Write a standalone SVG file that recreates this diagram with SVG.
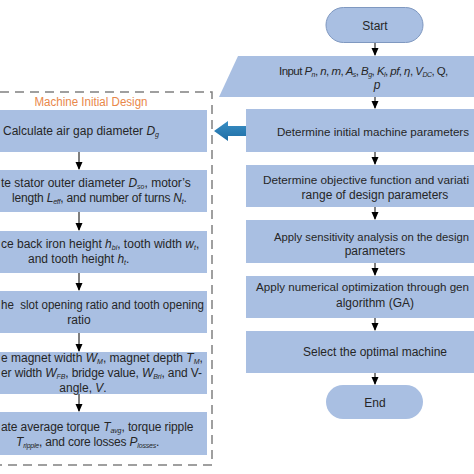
<svg xmlns="http://www.w3.org/2000/svg" width="474" height="474" viewBox="0 0 474 474">
<defs>
<style>
.box{fill:#A9BFE2;}
.t{font-family:"Liberation Sans",Arial,sans-serif;font-size:12px;fill:#262626;}
.r{font-size:11.5px;}
.c{text-anchor:middle;}
.i{font-style:italic;}
.s{font-style:italic;font-size:7px;}
.ln{stroke:#000;stroke-width:1;fill:none;marker-end:url(#ah);}
</style>
<marker id="ah" viewBox="0 0 8 8" refX="7" refY="4" markerWidth="8" markerHeight="8" markerUnits="userSpaceOnUse" orient="auto">
<path d="M0,0.5 L8,4 L0,7.5 Z" fill="#000"/>
</marker>
<linearGradient id="bg" x1="0" y1="0" x2="0" y2="1">
<stop offset="0" stop-color="#3A8FC4"/>
<stop offset="1" stop-color="#1E6DA5"/>
</linearGradient>
</defs>
<rect width="474" height="474" fill="#fff"/>

<g id="group-initial-design">
<path d="M0,92 H212 V465 H0" fill="none" stroke="#808080" stroke-width="1.5" stroke-dasharray="9,6"/>
<text class="t c" x="91" y="106" style="fill:#E9874A" textLength="113" lengthAdjust="spacingAndGlyphs">Machine Initial Design</text>
</g>

<g id="n-airgap">
<rect class="box" x="-10" y="110" width="217" height="42"/>
<text class="t" x="3" y="135">Calculate air gap diameter <tspan class="i">D</tspan><tspan class="s" baseline-shift="-2">g</tspan></text>
</g>
<g id="n-stator">
<rect class="box" x="-10" y="170" width="217" height="42"/>
<text class="t" x="1" y="187">te stator outer diameter <tspan class="i">D</tspan><tspan class="s" baseline-shift="-2">so</tspan>, motor’s</text>
<text class="t" x="12" y="202" letter-spacing="-0.2">length <tspan class="i">L</tspan><tspan class="s" baseline-shift="-2">eff</tspan>, and number of turns <tspan class="i">N</tspan><tspan class="s" baseline-shift="-2">t</tspan>.</text>
</g>
<g id="n-backiron">
<rect class="box" x="-10" y="231" width="217" height="42"/>
<text class="t" x="1" y="248">ce back iron height <tspan class="i">h</tspan><tspan class="s" baseline-shift="-2">bi</tspan>, tooth width <tspan class="i">w</tspan><tspan class="s" baseline-shift="-2">t</tspan>,</text>
<text class="t" x="28" y="263">and tooth height <tspan class="i">h</tspan><tspan class="s" baseline-shift="-2">t</tspan>.</text>
</g>
<g id="n-slot">
<rect class="box" x="-10" y="291" width="217" height="42"/>
<text class="t" x="1" y="309" xml:space="preserve" textLength="203" lengthAdjust="spacingAndGlyphs">he  slot opening ratio and tooth opening</text>
<text class="t c" x="79" y="324">ratio</text>
</g>
<g id="n-magnet">
<rect class="box" x="-10" y="352" width="217" height="42"/>
<text class="t" x="1" y="362">e magnet width <tspan class="i">W</tspan><tspan class="s" baseline-shift="-2">M</tspan>, magnet depth <tspan class="i">T</tspan><tspan class="s" baseline-shift="-2">M</tspan>,</text>
<text class="t" x="1" y="377" letter-spacing="-0.12">er width <tspan class="i">W</tspan><tspan class="s" baseline-shift="-2">FB</tspan>, bridge value, <tspan class="i">W</tspan><tspan class="s" baseline-shift="-2">Bri</tspan>, and V-</text>
<text class="t c" x="83" y="392">angle, <tspan class="i">V</tspan>.</text>
</g>
<g id="n-torque">
<rect class="box" x="-10" y="412" width="217" height="43"/>
<text class="t" x="1" y="431" letter-spacing="-0.1">ate average torque <tspan class="i">T</tspan><tspan class="s" baseline-shift="-2">avg</tspan>, torque ripple</text>
<text class="t" x="16" y="446" letter-spacing="-0.2"><tspan class="i">T</tspan><tspan class="s" baseline-shift="-2">ripple</tspan>, and core losses <tspan class="i">P</tspan><tspan class="s" baseline-shift="-2">losses</tspan>.</text>
</g>

<g id="n-start">
<rect class="box" x="326" y="7.5" width="97" height="35" rx="17.5" stroke="#7F98C0" stroke-width="1"/>
<text class="t c" x="375" y="30">Start</text>
</g>
<g id="n-input">
<polygon class="box" points="238,56 480,56 480,97 219,97"/>
<text class="t" x="279" y="75" style="font-size:11.5px" letter-spacing="-0.55">Input <tspan class="i">P</tspan><tspan class="s" baseline-shift="-2">n</tspan>, <tspan class="i">n</tspan>, <tspan class="i">m</tspan>, <tspan class="i">A</tspan><tspan class="s" baseline-shift="-2">s</tspan>, <tspan class="i">B</tspan><tspan class="s" baseline-shift="-2">g</tspan>, <tspan class="i">K</tspan><tspan class="s" baseline-shift="-2">l</tspan>, <tspan class="i">pf</tspan>, <tspan class="i">η</tspan>, <tspan class="i">V</tspan><tspan class="s" baseline-shift="-2">DC</tspan>, Q,</text>
<text class="t c i" x="377" y="89">p</text>
</g>
<g id="n-initparams">
<rect class="box" x="246" y="109" width="240" height="43"/>
<text class="t r" x="277" y="136" textLength="192" lengthAdjust="spacingAndGlyphs">Determine initial machine parameters</text>
</g>
<g id="n-objective">
<rect class="box" x="246" y="165" width="240" height="42"/>
<text class="t r" x="263" y="184" textLength="206" lengthAdjust="spacingAndGlyphs">Determine objective function and variati</text>
<text class="t c" x="375" y="199">range of design parameters</text>
</g>
<g id="n-sensitivity">
<rect class="box" x="246" y="220" width="240" height="43"/>
<text class="t r" x="274" y="241" textLength="195" lengthAdjust="spacingAndGlyphs">Apply sensitivity analysis on the design</text>
<text class="t c" x="375" y="255">parameters</text>
</g>
<g id="n-ga">
<rect class="box" x="246" y="276" width="240" height="42"/>
<text class="t r" x="256" y="291" textLength="213" lengthAdjust="spacingAndGlyphs">Apply numerical optimization through gen</text>
<text class="t c" x="375" y="307">algorithm (GA)</text>
</g>
<g id="n-select">
<rect class="box" x="246" y="331" width="240" height="42"/>
<text class="t c" x="375" y="356">Select the optimal machine</text>
</g>
<g id="n-end">
<rect class="box" x="326" y="385" width="97" height="34" rx="17"/>
<text class="t c" x="375" y="407">End</text>
</g>

<g id="connectors">
<line class="ln" x1="79" y1="152" x2="79" y2="169"/>
<line class="ln" x1="79" y1="212" x2="79" y2="230"/>
<line class="ln" x1="79" y1="273" x2="79" y2="290"/>
<line class="ln" x1="79" y1="333" x2="79" y2="351"/>
<line class="ln" x1="79" y1="394" x2="79" y2="411"/>
<line class="ln" x1="375" y1="43" x2="375" y2="55"/>
<line class="ln" x1="375" y1="97" x2="375" y2="108"/>
<line class="ln" x1="375" y1="152" x2="375" y2="164"/>
<line class="ln" x1="375" y1="207" x2="375" y2="219"/>
<line class="ln" x1="375" y1="263" x2="375" y2="275"/>
<line class="ln" x1="375" y1="318" x2="375" y2="330"/>
<line class="ln" x1="375" y1="373" x2="375" y2="384"/>
<polygon points="214,131 228,121 228,126 246,126 246,136 228,136 228,141" fill="url(#bg)"/>
</g>
</svg>
